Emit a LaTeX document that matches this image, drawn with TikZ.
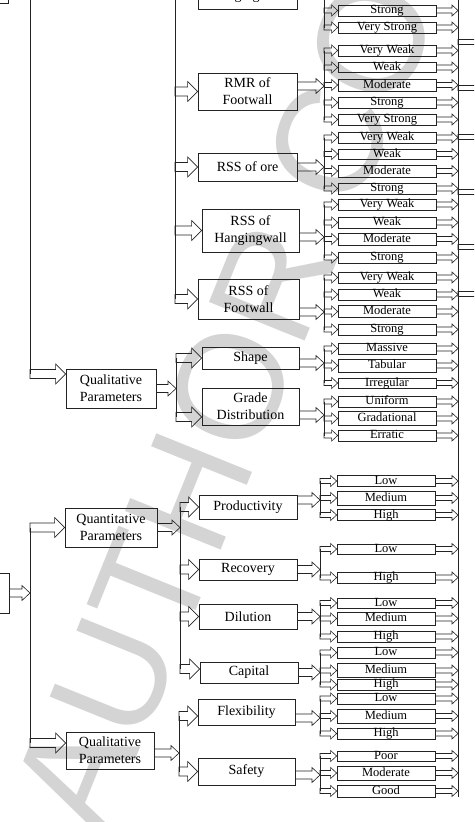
\documentclass[tikz,border=0pt]{standalone}
\usepackage{fontspec}
\setmainfont{Liberation Serif}
\newfontfamily\markfont{Liberation Sans}
\usepackage{xcolor}
\usetikzlibrary{calc}
\definecolor{ink}{RGB}{35,35,35}
\definecolor{markgray}{RGB}{212,212,212}
\tikzset{
  lvl/.style={draw=ink, line width=0.7pt, minimum width=98pt, minimum height=11pt, inner sep=0pt, text height=8pt, text depth=2pt, font=\fontsize{12.5}{12.5}\selectfont},
  grp/.style={draw=ink, line width=0.7pt, minimum width=99pt, align=center, inner sep=1pt, font=\fontsize{14}{17}\selectfont},
  vline/.style={draw=ink, line width=0.8pt},
  blk/.style n args={3}{draw=ink, line width=0.6pt, to path={let \p1=(\tikztostart), \p2=(\tikztotarget) in
    (\x1,\y1+#1) -- (\x2-#3,\y1+#1) -- (\x2-#3,\y1+#2) -- (\x2,\y1) -- (\x2-#3,\y1-#2) -- (\x2-#3,\y1-#1) -- (\x1,\y1-#1) -- cycle}},
  sarr/.style={blk={2.5pt}{5.5pt}{6pt}},
  marr/.style={blk={4pt}{7.5pt}{8pt}},
  barr/.style={blk={4.5pt}{10pt}{10pt}}
}
\begin{document}
\begin{tikzpicture}[x=1pt, y=-1pt]
  \useasboundingbox (0,0) rectangle (474,822);
  \clip (0,0) rectangle (474,822);
  \node[font=\fontsize{150}{150}\markfont, text=markgray, rotate=68] (wm) at (262,310) {AUTHOR COPY};

  \coordinate (lbus) at (30,0);
  \coordinate (bigbr) at (175,0);
  \coordinate (qlbr) at (176,0);
  \coordinate (qnbr) at (180,0);
  \coordinate (ql2br) at (179,0);
  \coordinate (ubr) at (324,0);
  \coordinate (dbr) at (320,0);
  \coordinate (rbus) at (458,0);
  \coordinate (qlin) at (30,374);
  \coordinate (q2in) at (30,743);
  \coordinate (grin) at (176,417);
  \coordinate (cain) at (180,669);
  \coordinate (flin) at (179,716);

  \node[grp] (leftA) at (-26,-18.5) [minimum width=68pt, minimum height=43pt] {};
  \node[grp] (leftB) at (-25.5,593) [minimum width=69pt, minimum height=40pt] {};
  \node[grp] (qual) at (111,388.5) [minimum width=90pt, minimum height=39pt] {Qualitative\\Parameters};
  \node[grp] (quant) at (111,527.5) [minimum width=92pt, minimum height=39pt] {Quantitative\\Parameters};
  \node[grp] (qual2) at (110,750.5) [minimum width=88pt, minimum height=37pt] {Qualitative\\Parameters};

  \node[grp] (rmrhw) at (247.5,-12) [minimum height=42pt] {RMR of\\Hangingwall};
  \node[grp] (rmrfw) at (247.5,91.5) [minimum height=37pt] {RMR of\\Footwall};
  \node[grp] (rssore) at (247.5,167) [minimum height=28pt] {RSS of ore};
  \node[grp] (rsshw) at (250.5,230.5) [minimum width=97pt, minimum height=43pt] {RSS of\\Hangingwall};
  \node[grp] (rssfw) at (248.5,299) [minimum width=101pt, minimum height=40pt] {RSS of\\Footwall};
  \node[grp] (shape) at (250.5,358) [minimum width=97pt, minimum height=22pt] {Shape};
  \node[grp] (grade) at (250.5,406.5) [minimum width=97pt, minimum height=37pt] {Grade\\Distribution};
  \node[grp] (prod) at (248,507) [minimum width=98pt, minimum height=24pt] {Productivity};
  \node[grp] (recov) at (248,569.5) [minimum width=98pt, minimum height=21pt] {Recovery};
  \node[grp] (dilu) at (248,616.5) [minimum width=98pt, minimum height=25pt] {Dilution};
  \node[grp] (capi) at (249,672.5) [minimum width=98pt, minimum height=21pt] {Capital};
  \node[grp] (flex) at (246.5,712) [minimum width=97pt, minimum height=26pt] {Flexibility};
  \node[grp] (safe) at (246.5,771.5) [minimum width=97pt, minimum height=27pt] {Safety};

  \node[lvl] (hwmo) at (387,-6.5) {Moderate};
  \node[lvl] (hwst) at (387,10.5) {Strong};
  \node[lvl] (hwvs) at (387,27.5) {Very Strong};
  \node[lvl] (fwvw) at (387,50.5) {Very Weak};
  \node[lvl] (fwwe) at (387,67.5) [minimum height=10pt] {Weak};
  \node[lvl] (fwmo) at (387,85) [minimum height=12pt] {Moderate};
  \node[lvl] (fwst) at (387,102.5) {Strong};
  \node[lvl] (fwvs) at (387,119.5) {Very Strong};
  \node[lvl] (orvw) at (387,137.5) {Very Weak};
  \node[lvl] (orwe) at (387,154) [minimum height=10pt] {Weak};
  \node[lvl] (ormo) at (387,171) [minimum height=12pt] {Moderate};
  \node[lvl] (orst) at (387,188.5) {Strong};
  \node[lvl] (rhvw) at (387,204.5) {Very Weak};
  \node[lvl] (rhwe) at (387,222.5) {Weak};
  \node[lvl] (rhmo) at (387,239) [minimum height=12pt] {Moderate};
  \node[lvl] (rhst) at (387,257.5) {Strong};
  \node[lvl] (rfvw) at (387,277.5) {Very Weak};
  \node[lvl] (rfwe) at (387,294.5) {Weak};
  \node[lvl] (rfmo) at (387,311.5) [minimum height=12pt] {Moderate};
  \node[lvl] (rfst) at (387,329.5) {Strong};
  \node[lvl] (shma) at (387,348.5) {Massive};
  \node[lvl] (shta) at (387,365.5) [minimum height=13pt] {Tabular};
  \node[lvl] (shir) at (387,383) [minimum height=10pt] {Irregular};
  \node[lvl] (grun) at (387,401.5) {Uniform};
  \node[lvl] (grgr) at (387,418.5) [minimum height=14pt] {Gradational};
  \node[lvl] (grer) at (387,435.5) {Erratic};
  \node[lvl] (prlo) at (386,481) {Low};
  \node[lvl] (prme) at (386,498) [minimum height=14pt] {Medium};
  \node[lvl] (prhi) at (386,515) {High};
  \node[lvl] (relo) at (386,549) [minimum height=10pt] {Low};
  \node[lvl] (rehi) at (386,577.5) {High};
  \node[lvl] (dilo) at (386,603) [minimum height=10pt] {Low};
  \node[lvl] (dime) at (386,618.5) [minimum height=13pt] {Medium};
  \node[lvl] (dihi) at (386,636.5) {High};
  \node[lvl] (calo) at (386,652.5) {Low};
  \node[lvl] (came) at (386,670.5) [minimum height=14pt] {Medium};
  \node[lvl] (cahi) at (386,684.5) {High};
  \node[lvl] (fllo) at (386,698.5) {Low};
  \node[lvl] (flme) at (386,716) [minimum height=14pt] {Medium};
  \node[lvl] (flhi) at (386,733.5) {High};
  \node[lvl] (sapo) at (386,756) [minimum height=10pt] {Poor};
  \node[lvl] (samo) at (386,773) [minimum height=14pt] {Moderate};
  \node[lvl] (sago) at (386,791) [minimum height=12pt] {Good};

  \draw[vline] (lbus |- leftA.east) -- (qlin);
  \draw[vline] (lbus |- quant.west) -- (q2in);
  \draw[vline] (bigbr |- rmrhw.west) -- (bigbr |- rssfw.west);
  \draw[vline] (qlbr |- shape.west) -- (grin);
  \draw[vline] (qnbr |- prod.west) -- (cain);
  \draw[vline] (flin) -- (ql2br |- safe.west);
  \draw[vline] (ubr |- rmrhw.north) -- (ubr |- hwvs.west);
  \draw[vline] (ubr |- fwvw.west) -- (ubr |- fwvs.west);
  \draw[vline] (ubr |- orvw.west) -- (ubr |- orst.west);
  \draw[vline] (ubr |- rhvw.west) -- (ubr |- rhst.west);
  \draw[vline] (ubr |- rfvw.west) -- (ubr |- rfst.west);
  \draw[vline] (ubr |- shma.west) -- (ubr |- shir.west);
  \draw[vline] (ubr |- grun.west) -- (ubr |- grer.west);
  \draw[vline] (dbr |- prlo.west) -- (dbr |- prhi.west);
  \draw[vline] (dbr |- relo.west) -- (dbr |- rehi.west);
  \draw[vline] (dbr |- dilo.west) -- (dbr |- dihi.west);
  \draw[vline] (dbr |- calo.west) -- (dbr |- cahi.west);
  \draw[vline] (dbr |- fllo.west) -- (dbr |- flhi.west);
  \draw[vline] (dbr |- sapo.west) -- (dbr |- sago.west);
  \draw[vline] (rbus |- rmrhw.north) -- (rbus |- sago.south);

  \draw[barr] (qlin) to (qual.west);
  \draw[barr] (lbus |- quant.west) to (quant.west);
  \draw[barr] (q2in) to (qual2.west);
  \draw[marr] (leftB.east) to (lbus);
  \draw[marr] (qual.east) to (qlbr);
  \draw[marr] (quant.east) to (qnbr);
  \draw[marr] ([yshift=-2.5pt]qual2.east) to (ql2br);

  \draw[barr] (bigbr |- rmrfw.west) to (rmrfw.west);
  \draw[barr] (bigbr |- rssore.west) to (rssore.west);
  \draw[barr] (bigbr |- rsshw.west) to (rsshw.west);
  \draw[barr] (bigbr |- rssfw.west) to (rssfw.west);
  \draw[barr] (qlbr |- shape.west) to (shape.west);
  \draw[barr] (grin) to (grade.west);
  \draw[barr] (qnbr |- prod.west) to (prod.west);
  \draw[barr] (qnbr |- recov.west) to (recov.west);
  \draw[barr] (qnbr |- dilu.west) to (dilu.west);
  \draw[barr] (cain) to (capi.west);
  \draw[barr] (flin) to (flex.west);
  \draw[barr] (ql2br |- safe.west) to (safe.west);

  \draw[marr] ([yshift=5.5pt]rmrfw.east) to (ubr);
  \draw[marr] (rssore.east) to (ubr);
  \draw[marr] ([yshift=-6.5pt]rsshw.east) to (ubr);
  \draw[marr] ([yshift=-13pt]rssfw.east) to (ubr);
  \draw[marr] ([yshift=-5pt]shape.east) to (ubr);
  \draw[marr] ([yshift=-8.5pt]grade.east) to (ubr);
  \draw[marr] ([yshift=7pt]prod.east) to (dbr);
  \draw[marr] (recov.east) to (dbr);
  \draw[marr] (dilu.east) to (dbr);
  \draw[marr] (capi.east) to (dbr);
  \draw[marr] ([yshift=-6pt]flex.east) to (dbr);
  \draw[marr] ([yshift=-3.5pt]safe.east) to (dbr);

  \foreach \lv in {hwmo,hwst,hwvs,fwvw,fwwe,fwmo,fwst,fwvs,orvw,orwe,ormo,orst,rhvw,rhwe,rhmo,rhst,rfvw,rfwe,rfmo,rfst,shma,shta,shir,grun,grgr,grer} {
    \draw[sarr] (ubr |- \lv.west) to (\lv.west);
    \draw[sarr] (\lv.east) to (rbus);
  }
  \foreach \lv in {prlo,prme,prhi,relo,rehi,dilo,dime,dihi,calo,came,cahi,fllo,flme,flhi,sapo,samo,sago} {
    \draw[sarr] (dbr |- \lv.west) to (\lv.west);
    \draw[sarr] (\lv.east) to (rbus);
  }

  \foreach \yy [count=\k] in {42,88,137,192,247,294} \coordinate (out\k) at (495,\yy);
  \foreach \k in {1,...,6} \draw[sarr] (rbus |- out\k) to (out\k);
\end{tikzpicture}
\end{document}
